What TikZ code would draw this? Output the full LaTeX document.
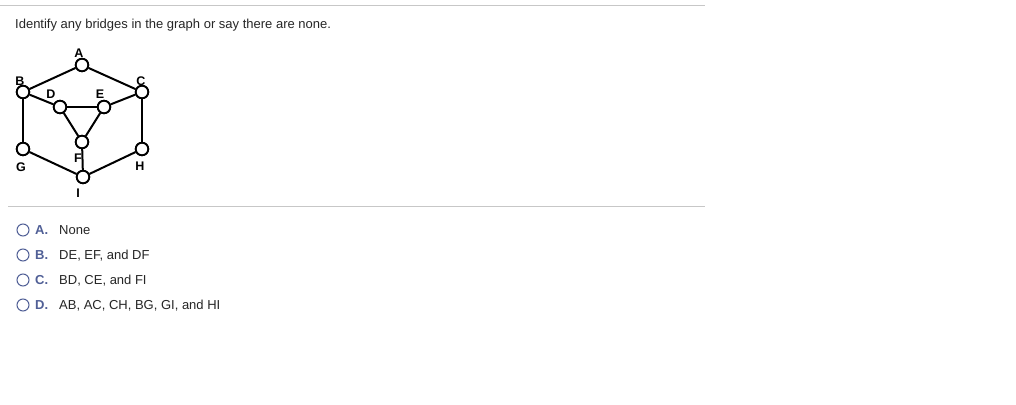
\documentclass[tikz,border=0pt]{standalone}
\usepackage{fontspec}
\setmainfont{Liberation Sans}
\begin{document}
\begin{tikzpicture}[x=1pt,y=-1pt,
  vtx/.style={circle,draw=black,line width=1.8pt,fill=white,minimum size=12.5pt,inner sep=0pt},
  edge/.style={line width=2pt,black},
  vlab/.style={font=\fontsize{12.5}{12.5}\selectfont\bfseries,inner sep=0pt},
  qtext/.style={font=\fontsize{13}{15}\selectfont,text=black!85,anchor=west,inner sep=0pt},
  opt/.style={circle,draw=optblue,line width=1pt,minimum size=12pt,inner sep=0pt},
  optletter/.style={font=\fontsize{13}{15}\selectfont\bfseries,text=optblue,anchor=west,inner sep=0pt},
  rule/.style={draw=black!22,line width=1pt}]
\definecolor{optblue}{RGB}{80,95,150}
\useasboundingbox (0,0) rectangle (1016,404);
\fill[white] (0,0) rectangle (1016,404);
% separators
\coordinate (r1a) at (0,6); \coordinate (r1b) at (705,6);
\coordinate (r2a) at (8,206); \coordinate (r2b) at (705,206);
\draw[rule] (r1a) -- (r1b);
\draw[rule] (r2a) -- (r2b);
\node[qtext] (q) at (15,25) {Identify any bridges in the graph or say there are none.};
% graph vertices
\node[vtx] (A) at (82,65) {};
\node[vtx] (B) at (23,92) {};
\node[vtx] (C) at (142,92) {};
\node[vtx] (D) at (60,107) {};
\node[vtx] (E) at (104,107) {};
\node[vtx] (F) at (82,142) {};
\node[vtx] (G) at (23,149) {};
\node[vtx] (H) at (142,149) {};
\node[vtx] (I) at (83,177) {};
\draw[edge] (A) -- (B);
\draw[edge] (A) -- (C);
\draw[edge] (B) -- (D);
\draw[edge] (D) -- (E);
\draw[edge] (E) -- (C);
\draw[edge] (D) -- (F);
\draw[edge] (E) -- (F);
\draw[edge] (F) -- (I);
\draw[edge] (B) -- (G);
\draw[edge] (C) -- (H);
\draw[edge] (G) -- (I);
\draw[edge] (H) -- (I);
% redraw vertices over edges
\foreach \v in {A,B,C,D,E,F,G,H,I}{\node[vtx] at (\v) {};}
% labels
\node[vlab] (lA) at (79,53) {A};
\node[vlab] (lB) at (20,81) {B};
\node[vlab] (lC) at (141,81) {C};
\node[vlab] (lD) at (51,94) {D};
\node[vlab] (lE) at (100,94) {E};
\node[vlab] (lF) at (78,158) {F};
\node[vlab] (lG) at (21,167) {G};
\node[vlab] (lH) at (140,166) {H};
\node[vlab] (lI) at (78,193) {I};
% options
\foreach \y/\L/\t [count=\i] in {230/A/None,255/B/{DE, EF, and DF},280/C/{BD, CE, and FI},305/D/{AB, AC, CH, BG, GI, and HI}}{
  \node[opt] (o\i) at (23,\y) {};
  \node[optletter] (ol\i) at (35,\y+0.5) {\L.};
  \node[qtext] (ot\i) at (59,\y+0.5) {\t};
}
\end{tikzpicture}
\end{document}
